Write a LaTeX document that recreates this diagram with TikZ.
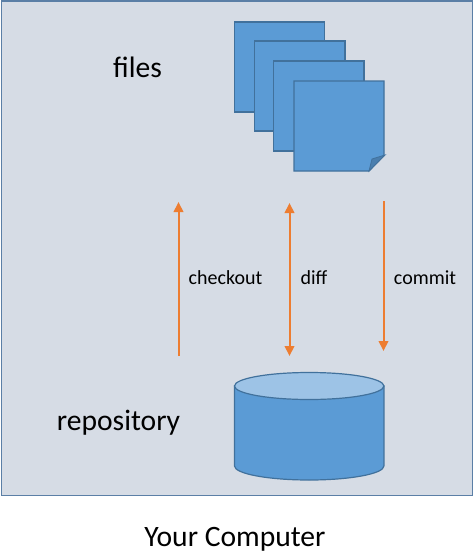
\documentclass[tikz,border=0pt]{standalone}
\usepackage{fontspec}
\setmainfont{Carlito}
\usetikzlibrary{arrows.meta}
\definecolor{panelfill}{HTML}{D6DCE5}
\definecolor{panelline}{HTML}{5B7FA6}
\definecolor{shapefill}{HTML}{5B9BD5}
\definecolor{shapeline}{HTML}{41719C}
\definecolor{shapelight}{HTML}{9DC3E6}
\definecolor{foldfill}{HTML}{4A7EAE}
\definecolor{arrowcol}{HTML}{ED7D31}
\tikzset{
  panel/.style={fill=panelfill,draw=panelline,line width=1.3pt},
  sheet/.style={fill=shapefill,draw=shapeline,line width=1.2pt,line join=miter},
  drum/.style={fill=shapefill,draw=shapeline,line width=1.2pt},
  drumtop/.style={fill=shapelight,draw=shapeline,line width=1.2pt},
  flow/.style={draw=arrowcol,line width=2pt,-{Triangle[length=10pt,width=9.5pt]}},
  flowboth/.style={draw=arrowcol,line width=2pt,{Triangle[length=10pt,width=9.5pt]}-{Triangle[length=10pt,width=9.5pt]}},
  biglabel/.style={inner sep=0pt,font=\fontsize{29.6}{33}\selectfont,text=black},
  smalllabel/.style={inner sep=0pt,font=\fontsize{20}{24}\selectfont,text=black}
}
\begin{document}
\begin{tikzpicture}[x=1pt,y=-1pt]
\useasboundingbox (0,0) rectangle (474,560);
\fill[white] (0,0) rectangle (474,560);
\draw[panel] (1.8,1) rectangle (472.7,495.5);
% sheets
\draw[sheet] (234.5,22) rectangle (324.5,112);
\draw[sheet] (254.5,41) rectangle (345,131);
\draw[sheet] (273.5,61) rectangle (364,151);
\draw[sheet] (294,81) -- (384,81) -- (384,155.5) -- (369,171) -- (294,171) -- cycle;
\fill[foldfill,draw=shapeline,line width=0.8pt] (369,171) -- (372,159) -- (385,155) -- cycle;
% cylinder
\draw[drum] (234.5,386) -- (234.5,466) arc[start angle=180,end angle=0,x radius=74.7,y radius=14] -- (384,386) -- cycle;
\draw[drumtop] (309.2,386) ellipse[x radius=74.7,y radius=13.5];
% arrow ends
\coordinate (coStart) at (178.5,356);
\coordinate (coEnd) at (178.5,202);
\coordinate (dfStart) at (289.5,203);
\coordinate (dfEnd) at (289.5,356);
\coordinate (cmStart) at (383.5,201);
\coordinate (cmEnd) at (383.5,351);
\draw[flow] (coStart) -- (coEnd);
\draw[flowboth] (dfStart) -- (dfEnd);
\draw[flow] (cmStart) -- (cmEnd);
% labels
\node[biglabel] (filesL) at (137.5,67) {files};
\node[biglabel] (repoL) at (118.5,423) {repository};
\node[smalllabel] (coL) at (225.5,278) {checkout};
\node[smalllabel] (dfL) at (314,278) {diff};
\node[smalllabel] (cmL) at (425,278) {commit};
\node[biglabel] (compL) at (235,539) {Your Computer};
\end{tikzpicture}
\end{document}
